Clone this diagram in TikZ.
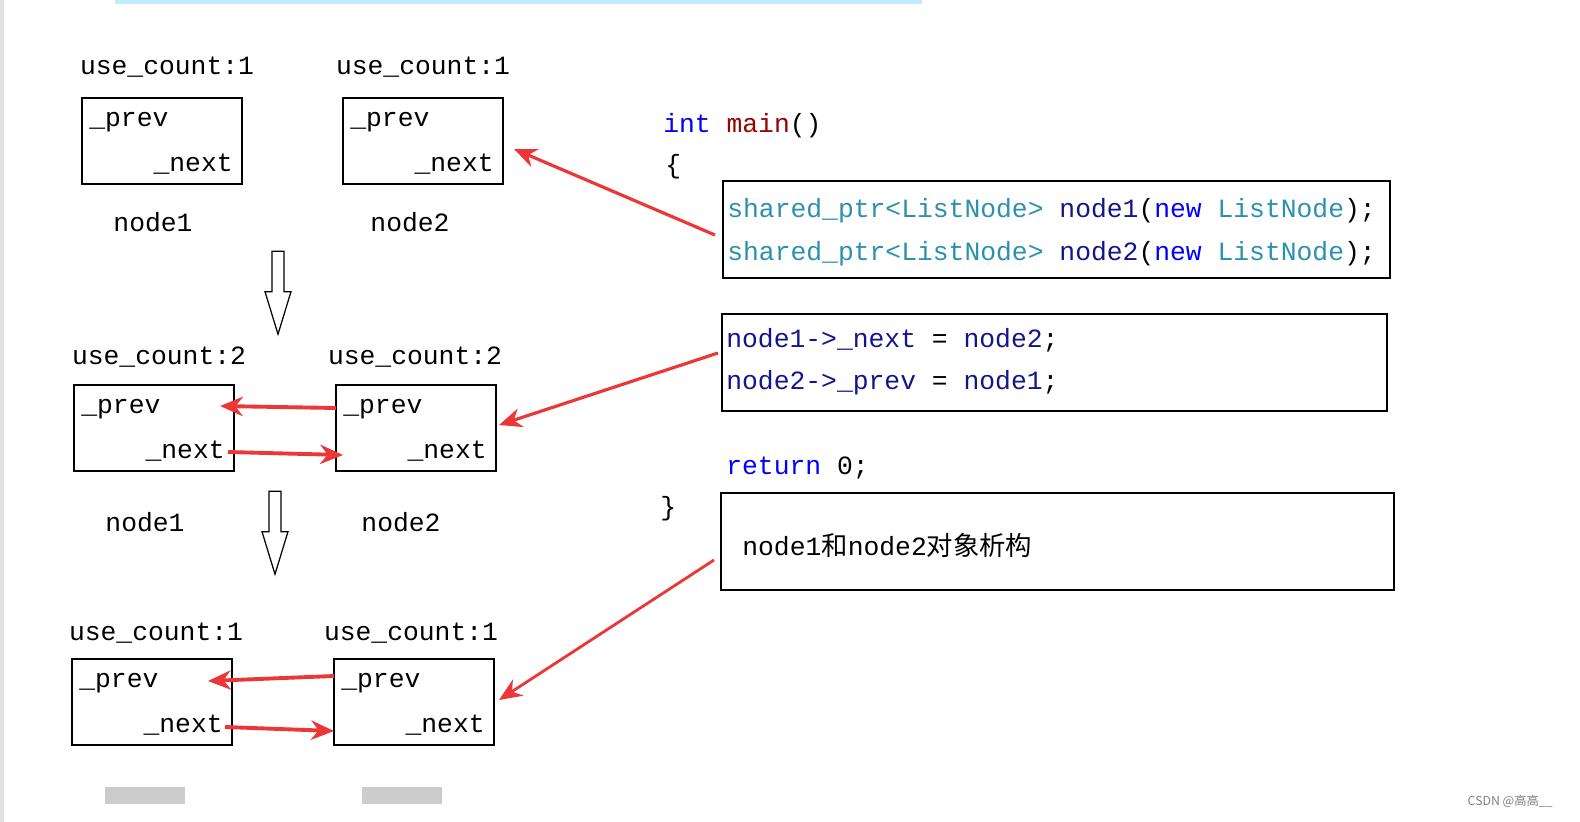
\documentclass[tikz,border=0pt]{standalone}
\usepackage{fontspec}
\setmainfont{Liberation Mono}
\newfontfamily\cjk{Noto Sans CJK SC}
\usetikzlibrary{arrows.meta,shapes.arrows}
\definecolor{tl}{RGB}{43,145,175}
\definecolor{nb}{RGB}{20,20,140}
\definecolor{kw}{RGB}{0,0,255}
\definecolor{rd}{RGB}{235,55,55}
\tikzset{
  x=0.02cm,y=-0.02cm,
  every node/.style={font=\fontsize{15}{18}\selectfont,inner sep=0pt},
  box/.style={draw,line width=0.8pt,minimum width=3.2cm,minimum height=1.72cm},
  cbox/.style={draw,line width=0.8pt},
  red/.style={draw=rd,line width=2.2pt,-{Stealth[length=13pt,width=11pt]}},
  downar/.style={single arrow,draw,line width=0.7pt,shape border rotate=270,minimum height=1.66cm,inner sep=3pt,single arrow head extend=4pt,minimum width=0.52cm,single arrow tip angle=34}
}
\begin{document}
\begin{tikzpicture}
\useasboundingbox[fill=white] (0,0) rectangle (1580,822);
\fill[blue!30!cyan!25] (115,0) rectangle (922,4);
\fill[black!12] (0,0) rectangle (4,822);
% top row
\node (uc1) at (167,67) {use\_count:1};
\node (uc2) at (423,67) {use\_count:1};
\node[box] (b1) at (162,141) {};
\node[box] (b2) at (423,141) {};
\node[anchor=west] (p1) at (89,122) {\_prev};
\node[anchor=east] (n1) at (233,164) {\_next};
\node[anchor=west] (p2) at (350,122) {\_prev};
\node[anchor=east] (n2) at (494,164) {\_next};
\node (l1) at (153,222) {node1};
\node (l2) at (410,222) {node2};
\node[downar] (d1) at (278,283) {};
% middle row
\node (uc3) at (159,357) {use\_count:2};
\node (uc4) at (415,357) {use\_count:2};
\node[box] (b3) at (154,428) {};
\node[box] (b4) at (416,428) {};
\node[anchor=west] (p3) at (81,409) {\_prev};
\node[anchor=east] (n3) at (225,451) {\_next};
\node[anchor=west] (p4) at (343,409) {\_prev};
\node[anchor=east] (n4) at (487,451) {\_next};
\node (l3) at (145,522) {node1};
\node (l4) at (401,522) {node2};
\node[downar] (d2) at (275,523) {};
\coordinate (a1s) at (336,408); \coordinate (a1e) at (220,406);
\coordinate (a2s) at (228,452); \coordinate (a2e) at (343,455);
\draw[red] (a1s) -- (a1e);
\draw[red] (a2s) -- (a2e);
% bottom row
\node (uc5) at (156,633) {use\_count:1};
\node (uc6) at (411,633) {use\_count:1};
\node[box] (b5) at (152,702) {};
\node[box] (b6) at (414,702) {};
\node[anchor=west] (p5) at (79,683) {\_prev};
\node[anchor=east] (n5) at (223,725) {\_next};
\node[anchor=west] (p6) at (341,683) {\_prev};
\node[anchor=east] (n6) at (485,725) {\_next};
\coordinate (a3s) at (334,676); \coordinate (a3e) at (208,681);
\coordinate (a4s) at (225,727); \coordinate (a4e) at (334,731);
\draw[red] (a3s) -- (a3e);
\draw[red] (a4s) -- (a4e);
\fill[black!20] (105,787) rectangle (185,804);
\fill[black!20] (362,787) rectangle (442,804);
% code
\node[anchor=west] (main) at (663,126) {\textcolor{kw}{int} \textcolor{red!60!black}{main}()};
\node[anchor=west] (ob) at (665,167) {\{};
\node[cbox,minimum width=13.34cm,minimum height=1.94cm] (c1) at (1056.5,229.5) {};
\node[anchor=west] (c1a) at (727,211) {\textcolor{tl}{shared\_ptr<ListNode>} \textcolor{nb}{node1}(\textcolor{kw}{new} \textcolor{tl}{ListNode});};
\node[anchor=west] (c1b) at (727,254) {\textcolor{tl}{shared\_ptr<ListNode>} \textcolor{nb}{node2}(\textcolor{kw}{new} \textcolor{tl}{ListNode});};
\node[cbox,minimum width=13.3cm,minimum height=1.94cm] (c2) at (1054.5,362.5) {};
\node[anchor=west] (c2a) at (726,340) {\textcolor{nb}{node1->\_next} = \textcolor{nb}{node2};};
\node[anchor=west] (c2b) at (726,383) {\textcolor{nb}{node2->\_prev} = \textcolor{nb}{node1};};
\node[anchor=west] (ret) at (726,468) {\textcolor{kw}{return} 0;};
\node[anchor=west] (cb) at (660,509) {\}};
\node[cbox,minimum width=13.46cm,minimum height=1.94cm] (c3) at (1057.5,541.5) {};
\node[anchor=west] (c3t) at (742,545) {node1{\cjk 和}node2{\cjk 对象析构}};
\coordinate (r1s) at (715,235); \coordinate (r1e) at (514,149);
\coordinate (r2s) at (718,353); \coordinate (r2e) at (499,425);
\coordinate (r3s) at (714,560); \coordinate (r3e) at (499,700);
\draw[red,line width=1.8pt] (r1s) -- (r1e);
\draw[red,line width=1.8pt] (r2s) -- (r2e);
\draw[red,line width=1.6pt] (r3s) -- (r3e);
\node[anchor=east,text=black!50,font=\cjk\fontsize{7}{8}\selectfont] (wm) at (1553,801) {CSDN @高高\_\_};
\end{tikzpicture}
\end{document}
